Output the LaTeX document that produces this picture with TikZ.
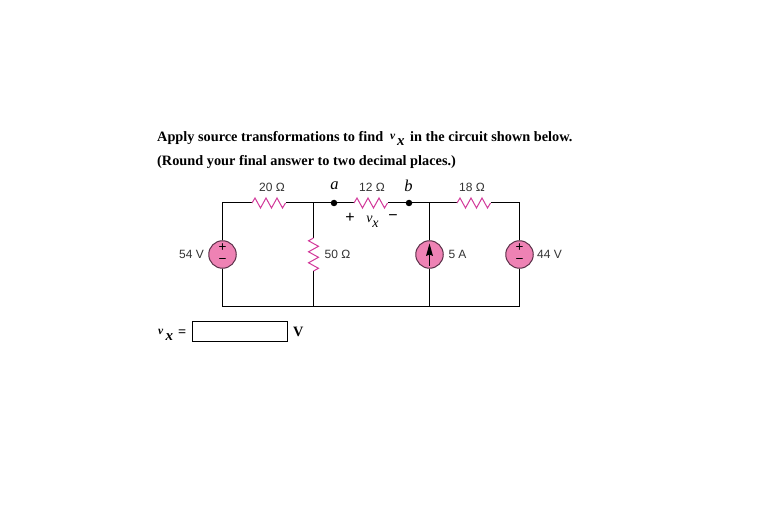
\documentclass[tikz,border=0pt]{standalone}
\usepackage{fontspec}
\setmainfont{Liberation Serif}
\newfontfamily\lab{Liberation Sans}
\usetikzlibrary{calc}
\definecolor{srcpink}{HTML}{EE82B4}
\definecolor{respink}{HTML}{D2399A}
\definecolor{rimc}{HTML}{5A3048}
\tikzset{x=1pt,y=-1pt,
 wire/.style={draw=black,line width=1pt},
 res/.style={draw=respink,line width=1pt,line join=miter},
 src/.style={circle,draw=rimc,fill=srcpink,line width=1pt,minimum size=27.5pt,inner sep=0pt},
 dotn/.style={circle,fill=black,minimum size=6.5pt,inner sep=0pt},
 val/.style={font=\lab\fontsize{12}{13}\selectfont,text=black!80,inner sep=0pt},
 ital/.style={font=\fontsize{16.5}{17}\itshape\selectfont,inner sep=0pt},
 ques/.style={font=\fontsize{14.3}{16}\bfseries\selectfont,inner sep=0pt,anchor=base west},
 sgn/.style={font=\lab\fontsize{16}{17}\selectfont,inner sep=0pt},
 pm/.style={font=\lab\fontsize{13.5}{14}\selectfont,inner sep=0pt}}
\newcommand{\hres}[1]{\draw[res] (#1) -- ++(3,-5) -- ++(5.5,10) -- ++(5.5,-10) -- ++(5.5,10) -- ++(5.5,-10) -- ++(5.5,10) -- ++(3,-5);}
\begin{document}
\begin{tikzpicture}
\useasboundingbox (0,0) rectangle (770,518);
% junctions
\coordinate (tl) at (222.5,203);
\coordinate (tm) at (313.5,203);
\coordinate (tc) at (429.5,203);
\coordinate (tr) at (519.5,203);
\coordinate (bl) at (222.5,306);
\coordinate (bm) at (313.5,306);
\coordinate (bc) at (429.5,306);
\coordinate (br) at (519.5,306);
\coordinate (r1a) at (252,203); \coordinate (r1b) at (286,203);
\coordinate (r2a) at (354,203); \coordinate (r2b) at (388,203);
\coordinate (r3a) at (457,203); \coordinate (r3b) at (491,203);
\coordinate (r4a) at (313.5,238); \coordinate (r4b) at (313.5,271);
\node[dotn] (a) at (334,203) {};
\node[dotn] (b) at (409,203) {};
\node[src] (s1) at (222.5,254.5) {};
\node[src] (s2) at (429.5,254.5) {};
\node[src] (s3) at (519.5,254.5) {};
% wires
\draw[wire,line join=miter] (r1a) -- (tl) -- (s1);
\draw[wire] (s1) -- (bl) -- (br) -- (s3);
\draw[wire] (s3) -- (tr) -- (r3b);
\draw[wire] (r1b) -- (r2a);
\draw[wire] (r2b) -- (r3a);
\draw[wire] (tm) -- (r4a);
\draw[wire] (r4b) -- (bm);
\draw[wire] (tc) -- (s2);
\draw[wire] (s2) -- (bc);
% resistors
\hres{r1a}\hres{r2a}\hres{r3a}
\draw[res] (r4a) -- ++(-5,2.8) -- ++(10,5.5) -- ++(-10,5.5) -- ++(10,5.5) -- ++(-10,5.5) -- ++(10,5.5) -- (r4b);
% source marks
\foreach \s in {s1,s3}{
 \node[pm] at ($(\s)+(0,-6.5)$) {+};
 \node[pm] at ($(\s)+(0,7)$) {\char"2212};
}
\draw[line width=1.2pt,black] (429.5,266) -- (429.5,252);
\fill[black] (429.5,243.5) -- (433,256) -- (429.5,254.5) -- (426,256) -- cycle;
% labels
\node[val] (l20) at (272,187.5) {20 Ω};
\node[val] (l12) at (372,187.5) {12 Ω};
\node[val] (l18) at (472,187.5) {18 Ω};
\node[val] (l50) at (337.5,254.5) {50 Ω};
\node[val] (l54) at (191.5,254.5) {54 V};
\node[val] (l5) at (457.5,254.5) {5 A};
\node[val] (l44) at (549.5,254.5) {44 V};
\node[ital] (la) at (334.5,186) {a};
\node[ital] (lb) at (408.5,185.5) {b};
\node[sgn] (pl) at (350,217.5) {+};
\node[sgn] (mi) at (393,217.5) {\char"2212};
\node[font=\fontsize{14}{15}\itshape\selectfont,inner sep=0pt,anchor=base] (vv) at (369.5,223) {v};
\node[font=\fontsize{14}{15}\itshape\selectfont,inner sep=0pt,anchor=base] (vs) at (375.5,228) {x};
% question
\node[ques] (q1) at (157,142) {Apply source transformations to find};
\node[ques,font=\fontsize{11.5}{12}\bfseries\itshape\selectfont] (q1v) at (390,140) {v};
\node[ques,font=\fontsize{15}{16}\bfseries\itshape\selectfont] (q1x) at (397,146) {x};
\node[ques] (q1e) at (410,142) {in the circuit shown below.};
\node[ques] (q2) at (157,166) {(Round your final answer to two decimal places.)};
% answer
\node[ques,font=\fontsize{11.5}{12}\bfseries\itshape\selectfont] (av) at (158,334) {v};
\node[ques,font=\fontsize{15}{16}\bfseries\itshape\selectfont] (ax) at (165.5,340) {x};
\node[ques] (aeq) at (178,336) {=};
\node[draw=black,line width=1pt,fill=white,minimum width=95pt,minimum height=20pt,inner sep=0pt] (box) at (240,331) {};
\node[ques] (av2) at (293,336) {V};
\end{tikzpicture}
\end{document}
